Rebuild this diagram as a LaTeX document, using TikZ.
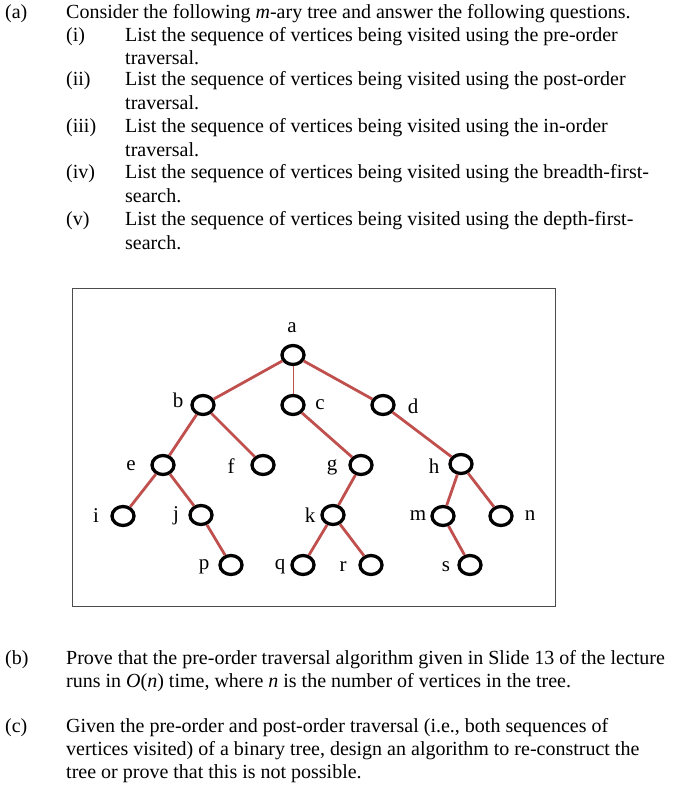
\documentclass[tikz,border=0pt]{standalone}
\usepackage{fontspec}
\setmainfont{Liberation Serif}
\usetikzlibrary{shapes.geometric}
\definecolor{edgered}{RGB}{192,80,77}
\begin{document}
\begin{tikzpicture}[x=1pt,y=-1pt,
  txt/.style={anchor=west,inner sep=0pt,font=\fontsize{20}{22}\selectfont},
  lab/.style={inner sep=0pt,font=\fontsize{21}{22}\selectfont},
  vtx/.style={draw=black,line width=3.3pt,ellipse,minimum width=22pt,minimum height=19pt,inner sep=0pt},
  edge/.style={draw=edgered,line width=2.8pt}]
\useasboundingbox (0,0) rectangle (676,794);
% text
\node[txt] (ta) at (5,14) {(a)};
\node[txt] (t0) at (66,14) {Consider the following \textit{m}-ary tree and answer the following questions.};
\node[txt] (n1) at (66,37) {(i)};
\node[txt] (t1) at (125,37) {List the sequence of vertices being visited using the pre-order};
\node[txt] (t1b) at (125,58) {traversal.};
\node[txt] (n2) at (66,81) {(ii)};
\node[txt] (t2) at (125,81) {List the sequence of vertices being visited using the post-order};
\node[txt] (t2b) at (125,103) {traversal.};
\node[txt] (n3) at (66,128) {(iii)};
\node[txt] (t3) at (125,128) {List the sequence of vertices being visited using the in-order};
\node[txt] (t3b) at (125,150) {traversal.};
\node[txt] (n4) at (66,174) {(iv)};
\node[txt] (t4) at (125,174) {List the sequence of vertices being visited using the breadth-first-};
\node[txt] (t4b) at (125,196) {search.};
\node[txt] (n5) at (66,221) {(v)};
\node[txt] (t5) at (125,221) {List the sequence of vertices being visited using the depth-first-};
\node[txt] (t5b) at (125,243) {search.};
\node[txt] (tb) at (5,660) {(b)};
\node[txt] (tb1) at (66,660) {Prove that the pre-order traversal algorithm given in Slide 13 of the lecture};
\node[txt] (tb2) at (66,683) {runs in \textit{O}(\textit{n}) time, where \textit{n} is the number of vertices in the tree.};
\node[txt] (tc) at (5,728) {(c)};
\node[txt] (tc1) at (66,728) {Given the pre-order and post-order traversal (i.e., both sequences of};
\node[txt] (tc2) at (66,751) {vertices visited) of a binary tree, design an algorithm to re-construct the};
\node[txt] (tc3) at (66,774) {tree or prove that this is not possible.};
% frame
\draw[line width=0.8pt,black!70] (72,288) rectangle (555,606);
% vertices
\foreach \n/\x/\y in {a/293/355,b/203/405,c/293/405,d/383/405,e/163/465,f/263/465,g/361/465,h/461/464,i/123/516,j/201/515,k/333/515,m/443/516,n/501/516,p/231/565,q/303/565,r/371/565,s/470/565}
  \node[vtx] (\n) at (\x,\y) {};
% edges
\foreach \u/\v in {a/b,a/d,b/e,b/f,c/g,d/h,e/i,e/j,j/p,g/k,k/q,k/r,h/m,h/n,m/s}
  \draw[edge] (\u) -- (\v);
\draw[edge,line width=1pt] (a) -- (c);
% labels
\foreach \n/\x/\y/\t in {la/292/328/a,lb/178/400/b,lc/320/405/c,ld/413/406/d,le/131/466/e,lf/231/466/f,lg/332/467/g,lh/434/466/h,li/96/516/i,lj/176/516/j,lk/310/515/k,lm/418/516/m,ln/530/516/n,lp/204/567/p,lq/280/567/q,lr/343/567/r,ls/446/567/s}
  \node[lab] (\n) at (\x,\y) {\t};
\end{tikzpicture}
\end{document}
